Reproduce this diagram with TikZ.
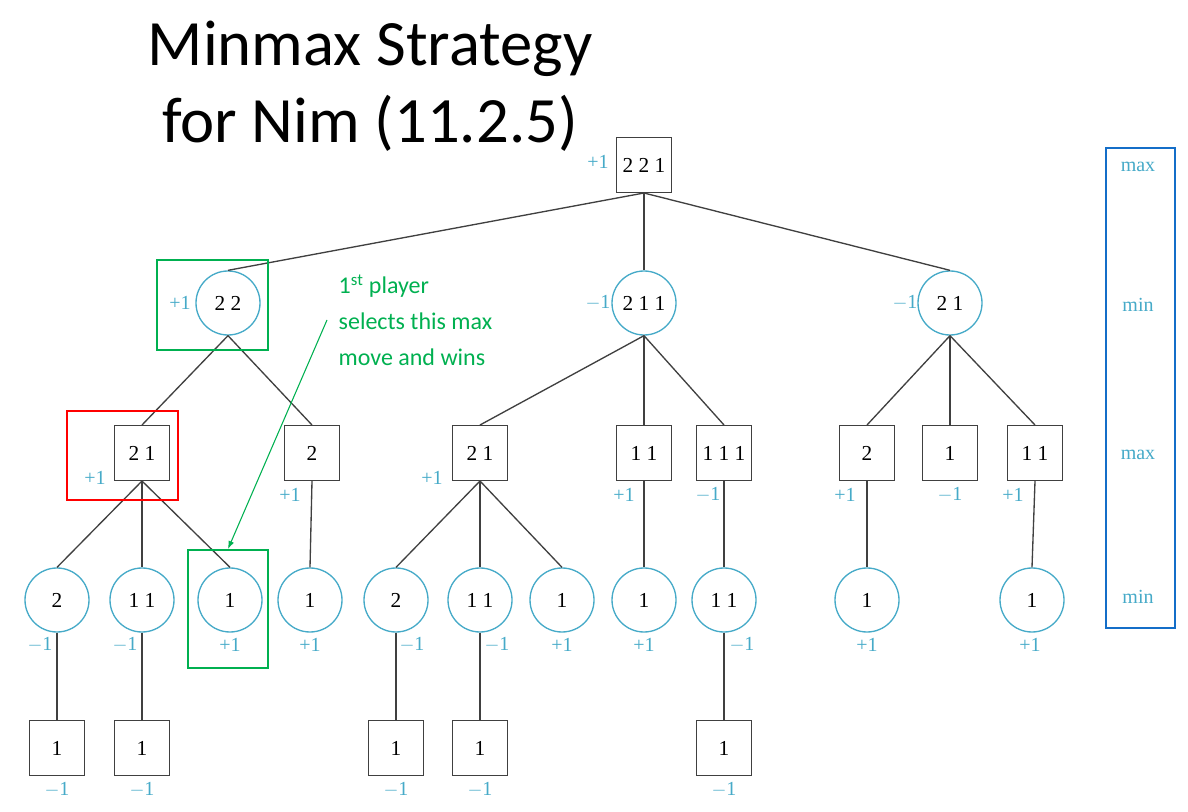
\documentclass[tikz,border=0pt]{standalone}
\usepackage{fontspec}
\usetikzlibrary{arrows.meta}
\setmainfont{Liberation Serif}
\newfontfamily\calfont{Carlito}
\definecolor{cy}{RGB}{70,170,200}
\definecolor{gr}{RGB}{0,176,80}
\definecolor{bl}{RGB}{20,110,200}
\begin{document}
\begin{tikzpicture}[x=0.75pt,y=-0.75pt,
  sq/.style={draw=black!75,line width=1pt,minimum size=41pt,inner sep=0pt,font=\fontsize{16}{16}\selectfont},
  ci/.style={draw=cy,line width=1pt,circle,minimum size=48pt,inner sep=0pt,font=\fontsize{16}{16}\selectfont},
  val/.style={text=cy,font=\fontsize{15}{15}\selectfont},
  ed/.style={draw=black!75,line width=1pt},
  hl/.style={line width=2pt}]
\useasboundingbox (0,0) rectangle (1188,812);
\node[font=\calfont\fontsize{48.5}{58}\selectfont,align=center] (title) at (370,86) {Minmax Strategy\\for Nim (11.2.5)};
% level 0
\node[sq] (r) at (644,165) {2 2 1};
% level 1
\node[ci] (a) at (228,303) {2 2};
\node[ci] (b) at (644,303) {2 1 1};
\node[ci] (c) at (950,303) {2 1};
% level 2
\node[sq] (a1) at (142,453) {2 1};
\node[sq] (a2) at (312,453) {2};
\node[sq] (b1) at (480,453) {2 1};
\node[sq] (b2) at (644,453) {1 1};
\node[sq] (b3) at (724,453) {1 1 1};
\node[sq] (c1) at (867,453) {2};
\node[sq] (c2) at (950,453) {1};
\node[sq] (c3) at (1035,453) {1 1};
% level 3
\node[ci] (d1) at (57,600) {2};
\node[ci] (d2) at (142,600) {1 1};
\node[ci] (d3) at (230,600) {1};
\node[ci] (d4) at (310,600) {1};
\node[ci] (d5) at (396,600) {2};
\node[ci] (d6) at (480,600) {1 1};
\node[ci] (d7) at (562,600) {1};
\node[ci] (d8) at (644,600) {1};
\node[ci] (d9) at (724,600) {1 1};
\node[ci] (d10) at (867,600) {1};
\node[ci] (d11) at (1032,600) {1};
% level 4
\node[sq] (e1) at (57,748) {1};
\node[sq] (e2) at (142,748) {1};
\node[sq] (e3) at (396,748) {1};
\node[sq] (e4) at (480,748) {1};
\node[sq] (e5) at (724,748) {1};
% edges
\foreach \p/\q in {r/a,r/b,r/c,a/a1,a/a2,b/b1,b/b2,b/b3,c/c1,c/c2,c/c3,
  a1/d1,a1/d2,a1/d3,a2/d4,b1/d5,b1/d6,b1/d7,b2/d8,b3/d9,c1/d10,c3/d11,
  d1/e1,d2/e2,d5/e3,d6/e4,d9/e5}
  \draw[ed] (\p.south) -- (\q.north);
% values
\node[val] (v0) at (598,162) {+1};
\node[val] (va) at (180,303) {+1};
\node[val] (vb) at (598,303) {$-$1};
\node[val] (vc) at (905,303) {$-$1};
\node[val] (va1) at (95,478) {+1};
\node[val] (va2) at (290,495) {+1};
\node[val] (vb1) at (432,478) {+1};
\node[val] (vb2) at (624,495) {+1};
\node[val] (vb3) at (708,495) {$-$1};
\node[val] (vc1) at (845,495) {+1};
\node[val] (vc2) at (950,495) {$-$1};
\node[val] (vc3) at (1013,495) {+1};
\foreach \n/\x/\t in {1/40/$-$1,2/125/$-$1,3/230/+1,4/310/+1,5/412/$-$1,6/497/$-$1,7/562/+1,8/644/+1,9/742/$-$1,10/867/+1,11/1030/+1}
  \node[val] (vd\n) at (\x,645) {\t};
\foreach \n/\x in {1/57,2/142,3/396,4/480,5/724}
  \node[val] (ve\n) at (\x,790) {$-$1};
% highlights
\draw[gr,hl] (157,260) rectangle (268,350);
\draw[red,hl] (67,411) rectangle (178,500);
\draw[gr,hl] (188,550) rectangle (268,668);
\node[text=gr,font=\calfont\fontsize{18}{27}\selectfont,align=left,anchor=north west] (note) at (334,270) {1\textsuperscript{st} player\\selects this max\\move and wins};
\coordinate (tip) at (228,549);
\draw[gr,line width=0.8pt,-{Latex[length=6pt]}] (327,320) -- (tip);
% side legend
\draw[bl,hl] (1106,148) rectangle (1175,628);
\foreach \y/\t in {167/max,305/min,455/max,597/min}
  \node[text=cy,font=\fontsize{15}{15}\selectfont] at (1138,\y) {\t};
\end{tikzpicture}
\end{document}
